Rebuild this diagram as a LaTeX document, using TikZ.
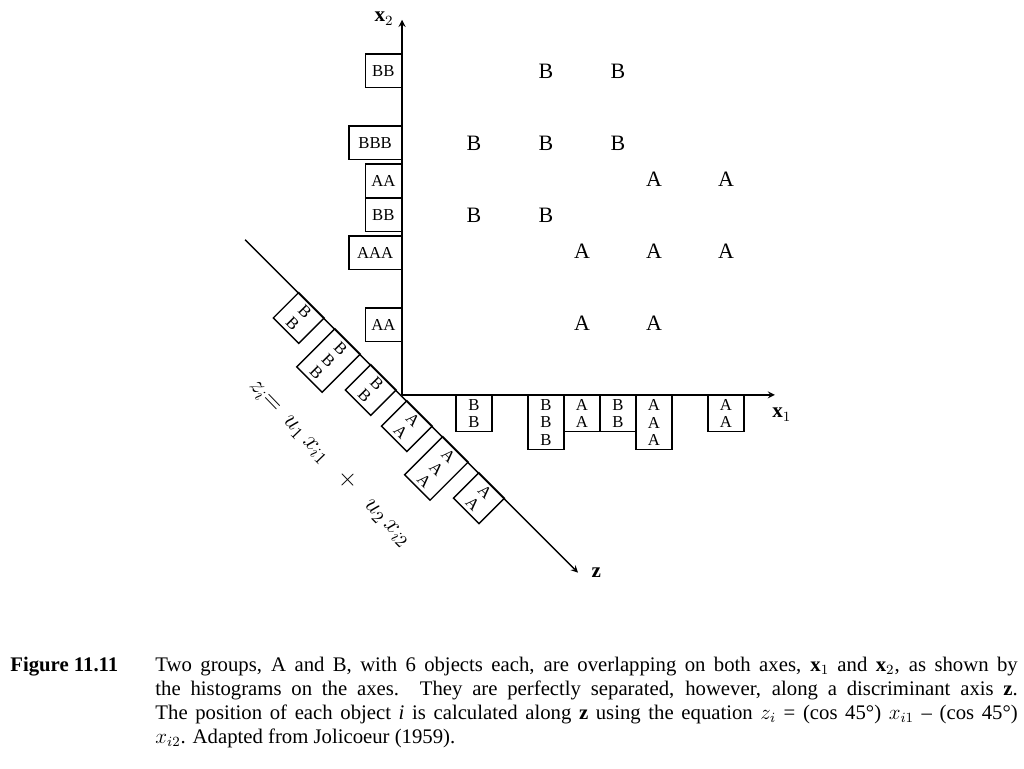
\documentclass[tikz,border=0pt]{standalone}
\usepackage{fontspec}
\setmainfont{Liberation Serif}
\usepackage{tikz}
\usetikzlibrary{positioning}

\tikzset{
  hbox/.style={draw, thick, inner sep=0pt, align=center, font=\fontsize{9.5}{9.8}\selectfont},
  pt/.style={font=\fontsize{12.5}{12.5}\selectfont},
}

\begin{document}
\begin{tikzpicture}[x=0.72cm,y=0.72cm]
  \useasboundingbox (-11.17,-10.39) rectangle (17.28,10.97);
  \coordinate (o) at (0,0);
  \coordinate (x1end) at (10.36,0);
  \coordinate (x2end) at (0,10.42);
  \coordinate (zstart) at (-4.36,4.31);
  \coordinate (zend) at (4.89,-4.94);

  %axes
  \draw[thick,-stealth] (o) -- (x1end);
  \draw[thick,-stealth] (o) -- (x2end);
  \draw[thick,-stealth] (zstart) -- (zend);
  \node[font=\bfseries\large] (x1lab) at (10.55,-0.55) {x$_1$};
  \node[font=\bfseries\large] (x2lab) at (-0.5,10.45) {x$_2$};
  \node[font=\bfseries\large] (zlab) at (5.4,-4.95) {z};

  %scatter
  \foreach \px/\py in {4/9,6/9,2/7,4/7,6/7,2/5,4/5}
    \node[pt] (b\px\py) at (\px,\py) {B};
  \foreach \px/\py in {7/6,9/6,5/4,7/4,9/4,5/2,7/2}
    \node[pt] (a\px\py) at (\px,\py) {A};

  %x2 histogram
  \node[hbox,anchor=east,minimum width=0.72cm,minimum height=0.67cm] (h9) at (0,9) {BB};
  \node[hbox,anchor=east,minimum width=1.05cm,minimum height=0.67cm] (h7) at (0,7) {BBB};
  \node[hbox,anchor=east,minimum width=0.72cm,minimum height=0.67cm] (h6) at (0,5.95) {AA};
  \node[hbox,anchor=east,minimum width=0.72cm,minimum height=0.67cm] (h5) at (0,5) {BB};
  \node[hbox,anchor=east,minimum width=1.05cm,minimum height=0.67cm] (h4) at (0,3.95) {AAA};
  \node[hbox,anchor=east,minimum width=0.72cm,minimum height=0.67cm] (h2) at (0,1.95) {AA};

  %x1 histogram
  \node[hbox,anchor=north,minimum width=0.72cm,minimum height=0.72cm] (v2) at (2,0) {B\\B};
  \node[hbox,anchor=north,minimum width=0.72cm,minimum height=1.08cm] (v4) at (4,0) {B\\B\\B};
  \node[hbox,anchor=north,minimum width=0.72cm,minimum height=0.72cm] (v5) at (5,0) {A\\A};
  \node[hbox,anchor=north,minimum width=0.72cm,minimum height=0.72cm] (v6) at (6,0) {B\\B};
  \node[hbox,anchor=north,minimum width=0.72cm,minimum height=1.08cm] (v7) at (7,0) {A\\A\\A};
  \node[hbox,anchor=north,minimum width=0.72cm,minimum height=0.72cm] (v9) at (9,0) {A\\A};

  %z histogram
  \begin{scope}[rotate=-45,transform shape]
    \node[hbox,anchor=north,minimum width=0.72cm,minimum height=0.72cm] (d5) at (-3.54,0) {B\\B};
    \node[hbox,anchor=north,minimum width=0.72cm,minimum height=1.08cm] (d3) at (-2.12,0) {B\\B\\B};
    \node[hbox,anchor=north,minimum width=0.72cm,minimum height=0.72cm] (d1) at (-0.71,0) {B\\B};
    \node[hbox,anchor=north,minimum width=0.72cm,minimum height=0.72cm] (e1) at (0.71,0) {A\\A};
    \node[hbox,anchor=north,minimum width=0.72cm,minimum height=1.08cm] (e3) at (2.12,0) {A\\A\\A};
    \node[hbox,anchor=north,minimum width=0.72cm,minimum height=0.72cm] (e5) at (3.54,0) {A\\A};
  \end{scope}
  \node[rotate=-46,font=\Large] (eq) at (-2.0,-1.9) {$z_i{=}\;\, u_1\, x_{i1} \;\;+\;\; u_2\, x_{i2}$};

  %caption
  \node[anchor=north west,inner sep=0pt,font=\fontsize{11.8}{13.7}\selectfont\bfseries] (fig) at (-10.89,-7.27) {Figure 11.11};
  \node[anchor=north west,inner sep=0pt,text width=17.25cm,align=justify,
        font=\fontsize{11.8}{13.7}\selectfont] (cap) at (-6.86,-7.27)
    {Two groups, A and B, with 6 objects each, are overlapping on both axes, $\mathbf{x}_1$ and $\mathbf{x}_2$, as shown by\linebreak
     the histograms on the axes. They are perfectly separated, however, along a discriminant axis \textbf{z}.\linebreak
     The position of each object \textit{i} is calculated along \textbf{z} using the equation $z_i$ = (cos 45\textdegree) $x_{i1}$ -- (cos 45\textdegree)\linebreak
     $x_{i2}$. Adapted from Jolicoeur (1959).};
\end{tikzpicture}
\end{document}
